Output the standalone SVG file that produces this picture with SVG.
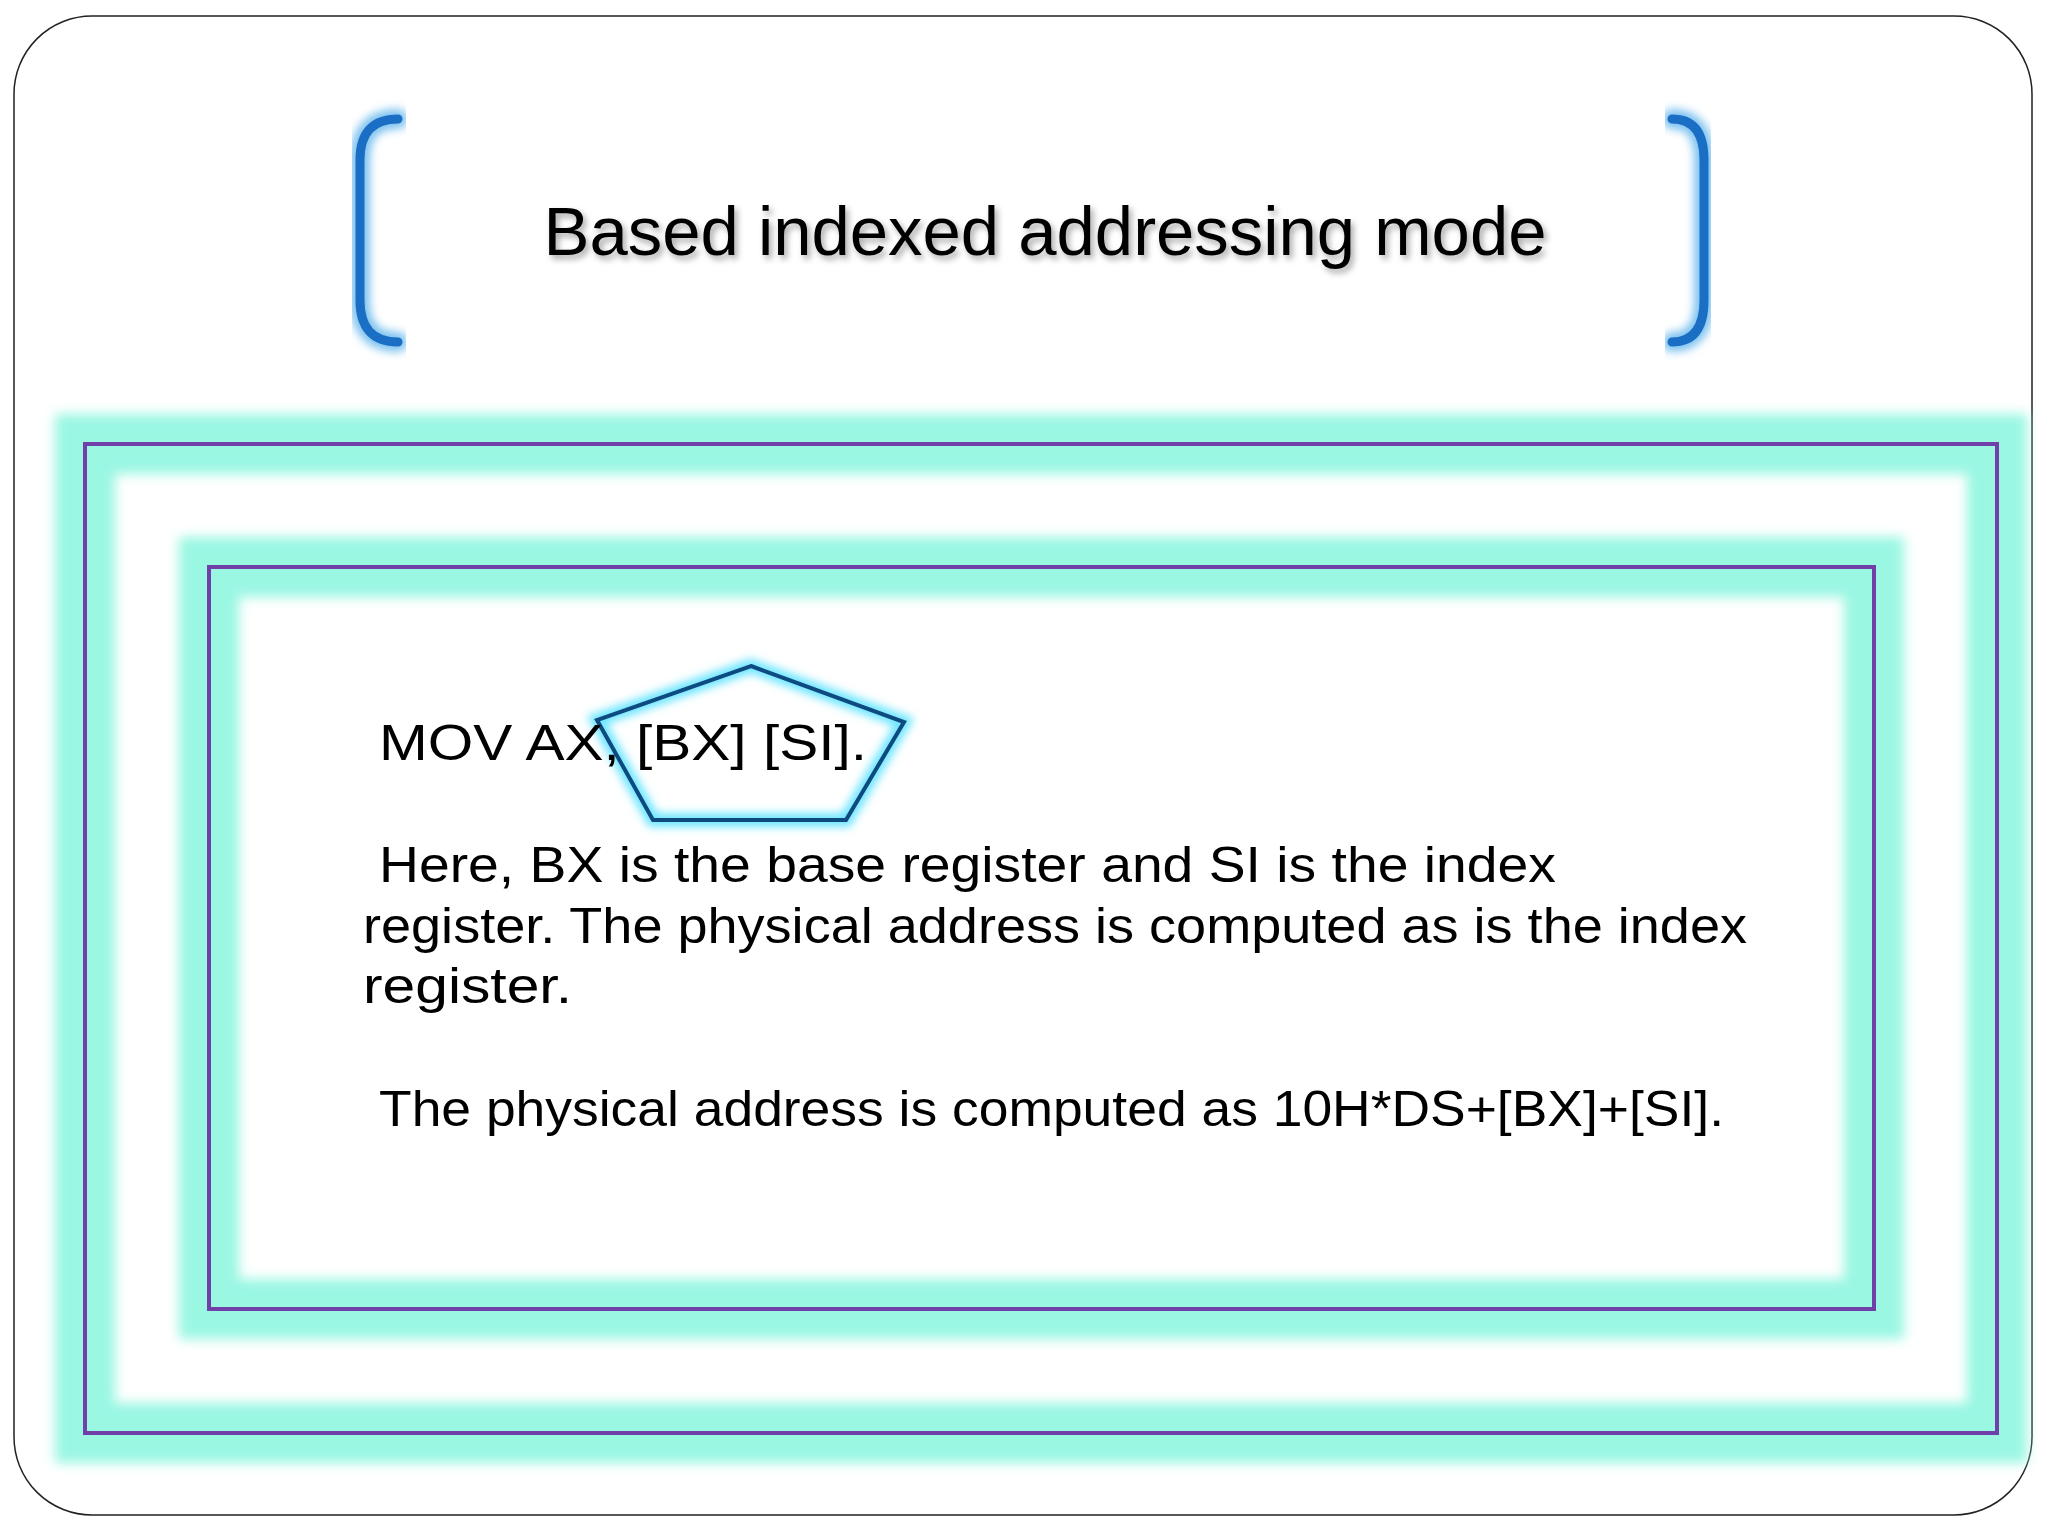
<svg xmlns="http://www.w3.org/2000/svg" width="2048" height="1536" viewBox="0 0 2048 1536">
<defs>
<filter id="blur" x="-10%" y="-10%" width="120%" height="120%"><feGaussianBlur stdDeviation="6"/></filter>
<filter id="sblur" x="-20%" y="-20%" width="140%" height="140%"><feGaussianBlur stdDeviation="4"/></filter>
<filter id="shadow" x="-5%" y="-20%" width="110%" height="150%"><feDropShadow dx="3" dy="4" stdDeviation="3" flood-color="#000" flood-opacity="0.35"/></filter>
<style>
.band{fill:none;stroke:#9af7e2;filter:url(#blur)}
.frame{fill:none;stroke:#7040a8;stroke-width:4}
.txt{font-family:"Liberation Sans",Arial,sans-serif;font-size:50px;fill:#000}
.brk{fill:none;stroke:#1a6fc4;stroke-width:9;stroke-linecap:round}
.brkg{fill:none;stroke:#7fc3f0;stroke-width:20;stroke-linecap:round;filter:url(#sblur)}
</style>
</defs>
<rect x="0" y="0" width="2048" height="1536" fill="#fff"/>
<rect x="14" y="16" width="2018" height="1499" rx="78" fill="#fff" stroke="#222" stroke-width="1.5"/>
<g id="title">
<path class="brkg" d="M398,119 Q360,119 360,160 L360,300 Q360,342 398,342"/>
<path class="brkg" d="M1672,119 Q1704,119 1704,160 L1704,300 Q1704,342 1672,342"/>
<path class="brk" d="M398,119 Q360,119 360,160 L360,300 Q360,342 398,342"/>
<path class="brk" d="M1672,119 Q1704,119 1704,160 L1704,300 Q1704,342 1672,342"/>
<text x="1045" y="255" text-anchor="middle" font-family="Liberation Sans,Arial,sans-serif" font-size="68" textLength="1003" lengthAdjust="spacingAndGlyphs" filter="url(#shadow)">Based indexed addressing mode</text>
</g>
<g id="outer-frame">
<rect class="band" x="85" y="444" width="1912" height="989" stroke-width="60"/>
<rect class="frame" x="85" y="444" width="1912" height="989"/>
</g>
<g id="inner-frame">
<rect x="209" y="567" width="1665" height="742" fill="#fff"/>
<rect class="band" x="209" y="567" width="1665" height="742" stroke-width="60"/>
<rect class="frame" x="209" y="567" width="1665" height="742"/>
</g>
<g id="pentagon">
<polygon points="751,666 904,722 846,820 653,820 597,720" fill="none" stroke="#6ee6ff" stroke-width="14" filter="url(#sblur)"/>
<polygon points="751,666 904,722 846,820 653,820 597,720" fill="none" stroke="#0d4a80" stroke-width="4"/>
</g>
<g id="body">
<text class="txt" x="379" y="760" textLength="488" lengthAdjust="spacingAndGlyphs">MOV AX,  [BX] [SI].</text>
<text class="txt" x="379" y="882" textLength="1177" lengthAdjust="spacingAndGlyphs">Here, BX is the base register and SI is the index</text>
<text class="txt" x="363" y="943" textLength="1384" lengthAdjust="spacingAndGlyphs">register. The physical address is computed as is the index</text>
<text class="txt" x="363" y="1003" textLength="209" lengthAdjust="spacingAndGlyphs">register.</text>
<text class="txt" x="379" y="1126" textLength="1345" lengthAdjust="spacingAndGlyphs">The physical address is computed as 10H*DS+[BX]+[SI].</text>
</g>
</svg>
